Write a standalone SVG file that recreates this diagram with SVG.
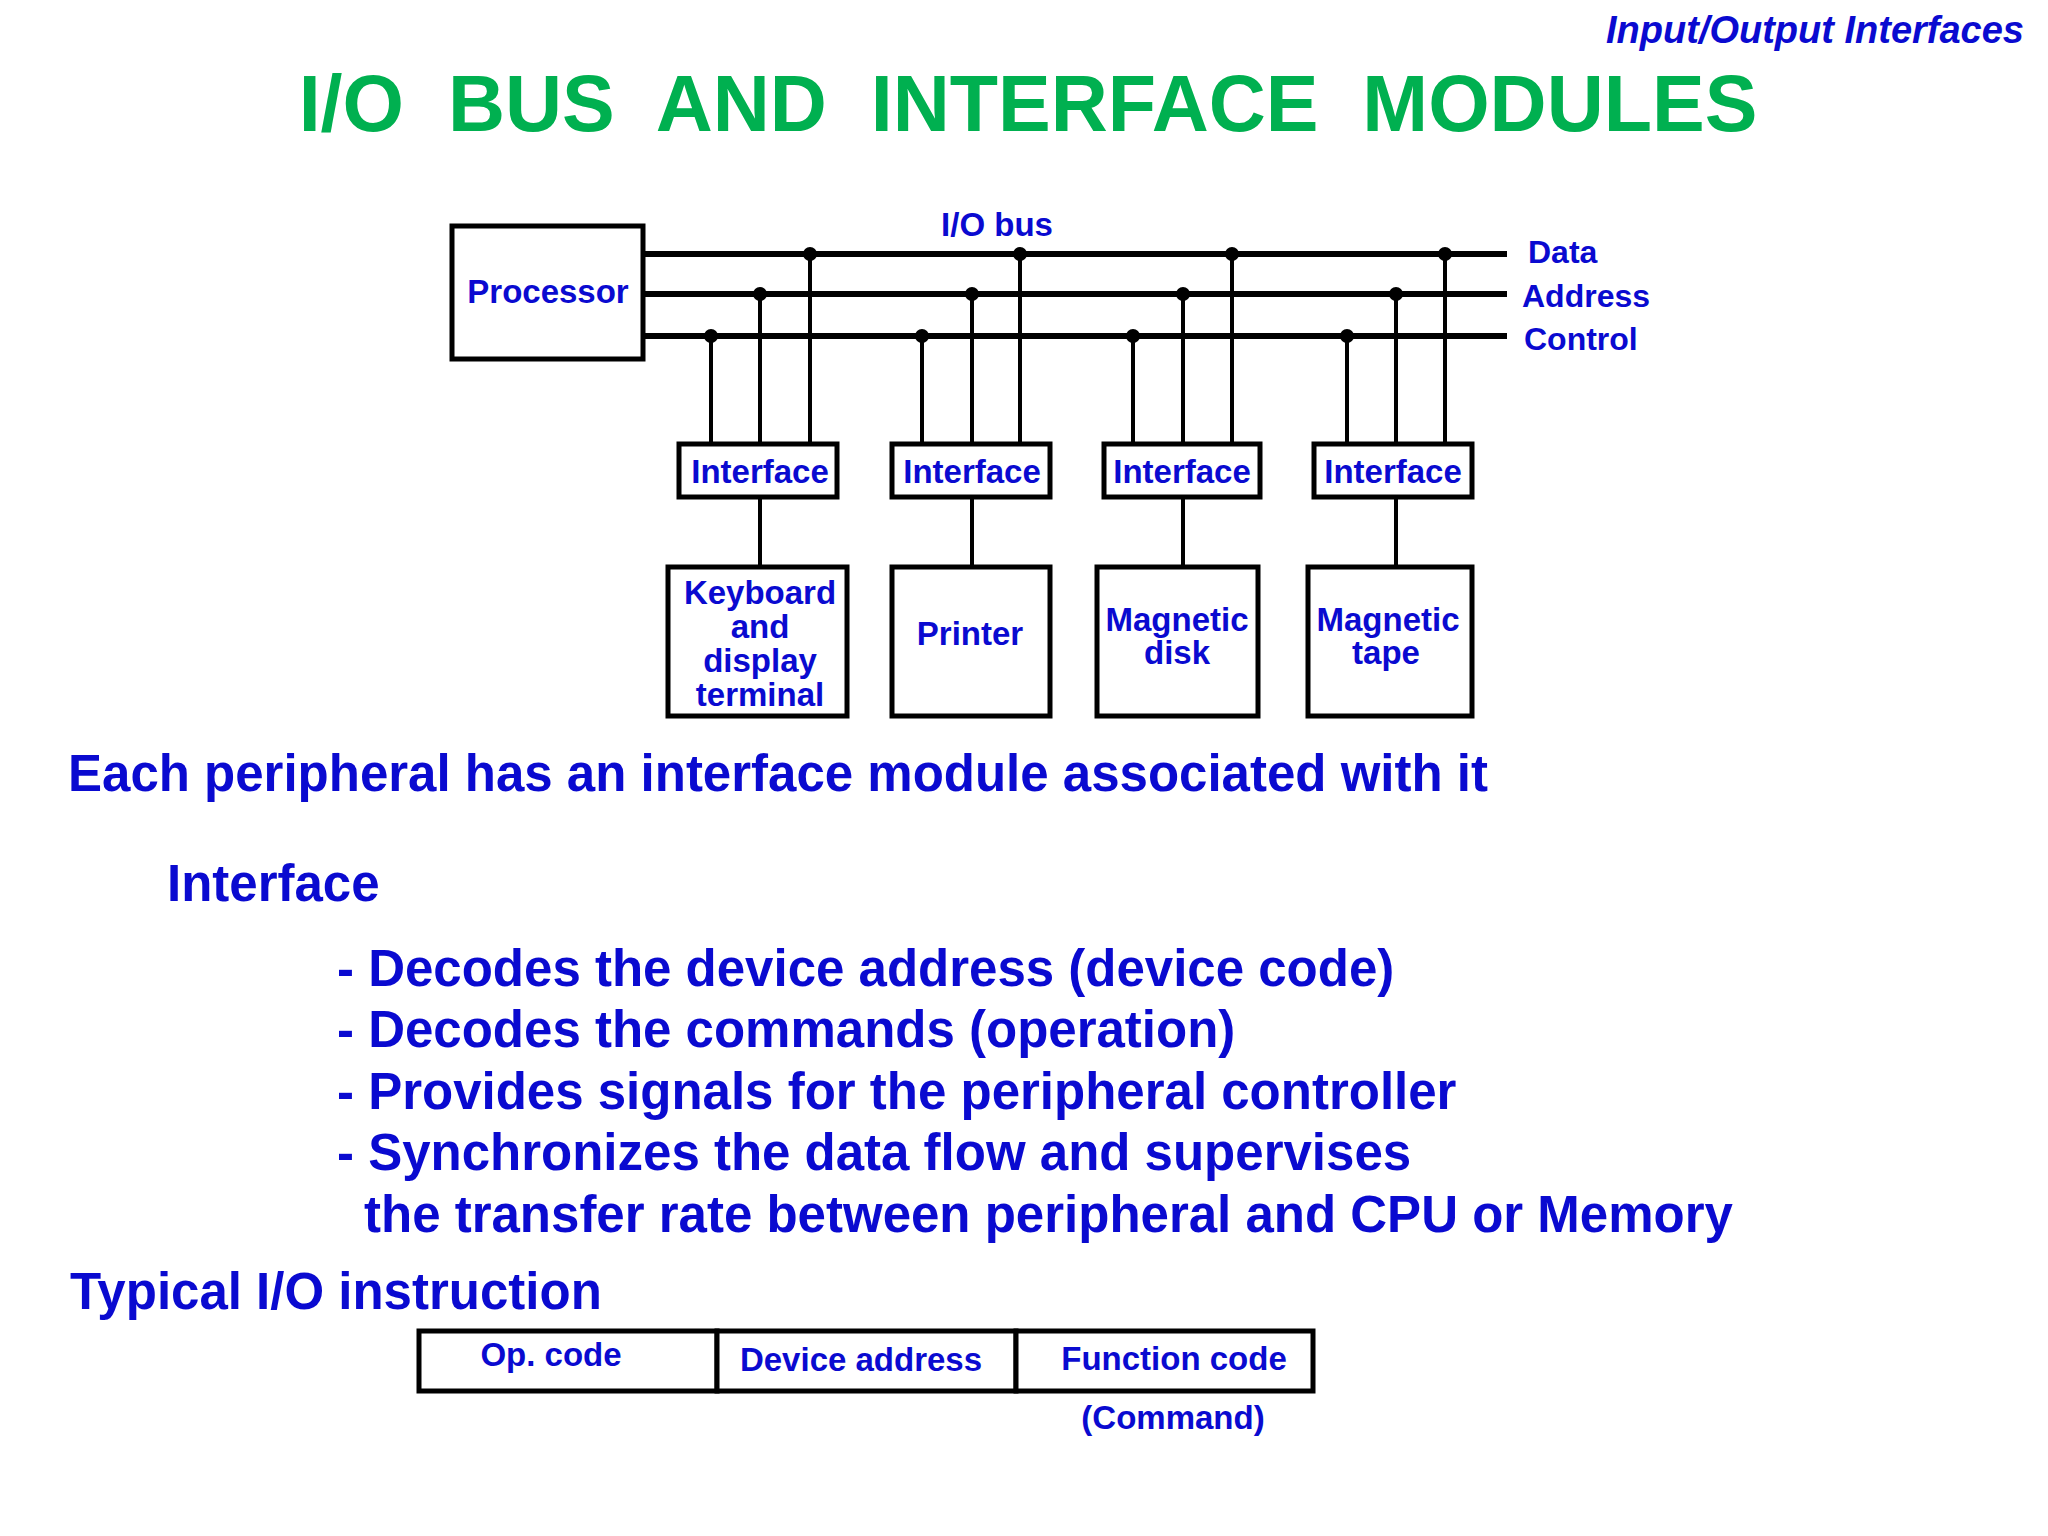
<svg xmlns="http://www.w3.org/2000/svg" width="2048" height="1536" viewBox="0 0 2048 1536">
<style>
.t{font-family:"Liberation Sans",Arial,sans-serif;font-weight:bold;fill:#0a0ad0}
.n{font-size:33px;text-anchor:middle}
.b{fill:#fff;stroke:#000;stroke-width:5}
.bus{stroke:#000;stroke-width:6}
.v{stroke:#000;stroke-width:4}
.big{font-size:51px}
</style>
<rect width="2048" height="1536" fill="#fff"/>
<text class="t" x="2024" y="43" font-size="38" font-style="italic" text-anchor="end">Input/Output Interfaces</text>
<text x="1028" y="131" font-family="Liberation Sans,Arial,sans-serif" font-weight="bold" font-size="79" fill="#00b050" text-anchor="middle" xml:space="preserve">I/O  BUS  AND  INTERFACE  MODULES</text>
<g id="connectors">
<line class="bus" x1="643" y1="254" x2="1507" y2="254"/>
<line class="bus" x1="643" y1="294" x2="1507" y2="294"/>
<line class="bus" x1="643" y1="336" x2="1507" y2="336"/>
<g class="v">
<line x1="711" y1="336" x2="711" y2="444"/><line x1="760" y1="294" x2="760" y2="444"/><line x1="810" y1="254" x2="810" y2="444"/>
<line x1="922" y1="336" x2="922" y2="444"/><line x1="972" y1="294" x2="972" y2="444"/><line x1="1020" y1="254" x2="1020" y2="444"/>
<line x1="1133" y1="336" x2="1133" y2="444"/><line x1="1183" y1="294" x2="1183" y2="444"/><line x1="1232" y1="254" x2="1232" y2="444"/>
<line x1="1347" y1="336" x2="1347" y2="444"/><line x1="1396" y1="294" x2="1396" y2="444"/><line x1="1445" y1="254" x2="1445" y2="444"/>
<line x1="760" y1="497" x2="760" y2="567"/><line x1="972" y1="497" x2="972" y2="567"/><line x1="1183" y1="497" x2="1183" y2="567"/><line x1="1396" y1="497" x2="1396" y2="567"/>
</g>
<g fill="#000">
<circle cx="711" cy="336" r="7"/><circle cx="760" cy="294" r="7"/><circle cx="810" cy="254" r="7"/>
<circle cx="922" cy="336" r="7"/><circle cx="972" cy="294" r="7"/><circle cx="1020" cy="254" r="7"/>
<circle cx="1133" cy="336" r="7"/><circle cx="1183" cy="294" r="7"/><circle cx="1232" cy="254" r="7"/>
<circle cx="1347" cy="336" r="7"/><circle cx="1396" cy="294" r="7"/><circle cx="1445" cy="254" r="7"/>
</g>
</g>
<text class="t n" x="997" y="236" font-size="31">I/O bus</text>
<text class="t" x="1528" y="263" font-size="32">Data</text>
<text class="t" x="1522" y="307" font-size="32">Address</text>
<text class="t" x="1524" y="350" font-size="32">Control</text>
<g id="processor"><rect class="b" x="452" y="226" width="191" height="133"/><text class="t n" x="548" y="303" font-size="31">Processor</text></g>
<g id="if1"><rect class="b" x="679" y="444" width="158" height="53"/><text class="t n" x="760" y="483">Interface</text></g>
<g id="if2"><rect class="b" x="892" y="444" width="158" height="53"/><text class="t n" x="972" y="483">Interface</text></g>
<g id="if3"><rect class="b" x="1104" y="444" width="156" height="53"/><text class="t n" x="1182" y="483">Interface</text></g>
<g id="if4"><rect class="b" x="1314" y="444" width="158" height="53"/><text class="t n" x="1393" y="483">Interface</text></g>
<g id="keyboard"><rect class="b" x="668" y="567" width="179" height="149"/><text class="t n" x="760" y="604" font-size="32">Keyboard</text><text class="t n" x="760" y="638" font-size="32">and</text><text class="t n" x="760" y="672" font-size="32">display</text><text class="t n" x="760" y="706" font-size="32">terminal</text></g>
<g id="printer"><rect class="b" x="892" y="567" width="158" height="149"/><text class="t n" x="970" y="645">Printer</text></g>
<g id="disk"><rect class="b" x="1097" y="567" width="161" height="149"/><text class="t n" x="1177" y="631">Magnetic</text><text class="t n" x="1177" y="664">disk</text></g>
<g id="tape"><rect class="b" x="1308" y="567" width="164" height="149"/><text class="t n" x="1388" y="631">Magnetic</text><text class="t n" x="1386" y="664">tape</text></g>
<text class="t big" x="68" y="791">Each peripheral has an interface module associated with it</text>
<text class="t big" x="167" y="901">Interface</text>
<text class="t big" x="337" y="986">- Decodes the device address (device code)</text>
<text class="t big" x="337" y="1047">- Decodes the commands (operation)</text>
<text class="t big" x="337" y="1109">- Provides signals for the peripheral controller</text>
<text class="t big" x="337" y="1170">- Synchronizes the data flow and supervises</text>
<text class="t big" x="364" y="1232">the transfer rate between peripheral and CPU or Memory</text>
<text class="t big" x="70" y="1309">Typical I/O instruction</text>
<g id="instruction">
<rect class="b" x="419" y="1331" width="298" height="60"/>
<rect class="b" x="717" y="1331" width="299" height="60"/>
<rect class="b" x="1016" y="1331" width="297" height="60"/>
<text class="t n" x="551" y="1366">Op. code</text>
<text class="t n" x="861" y="1371">Device address</text>
<text class="t n" x="1174" y="1370">Function code</text>
<text class="t n" x="1173" y="1429">(Command)</text>
</g>
</svg>
